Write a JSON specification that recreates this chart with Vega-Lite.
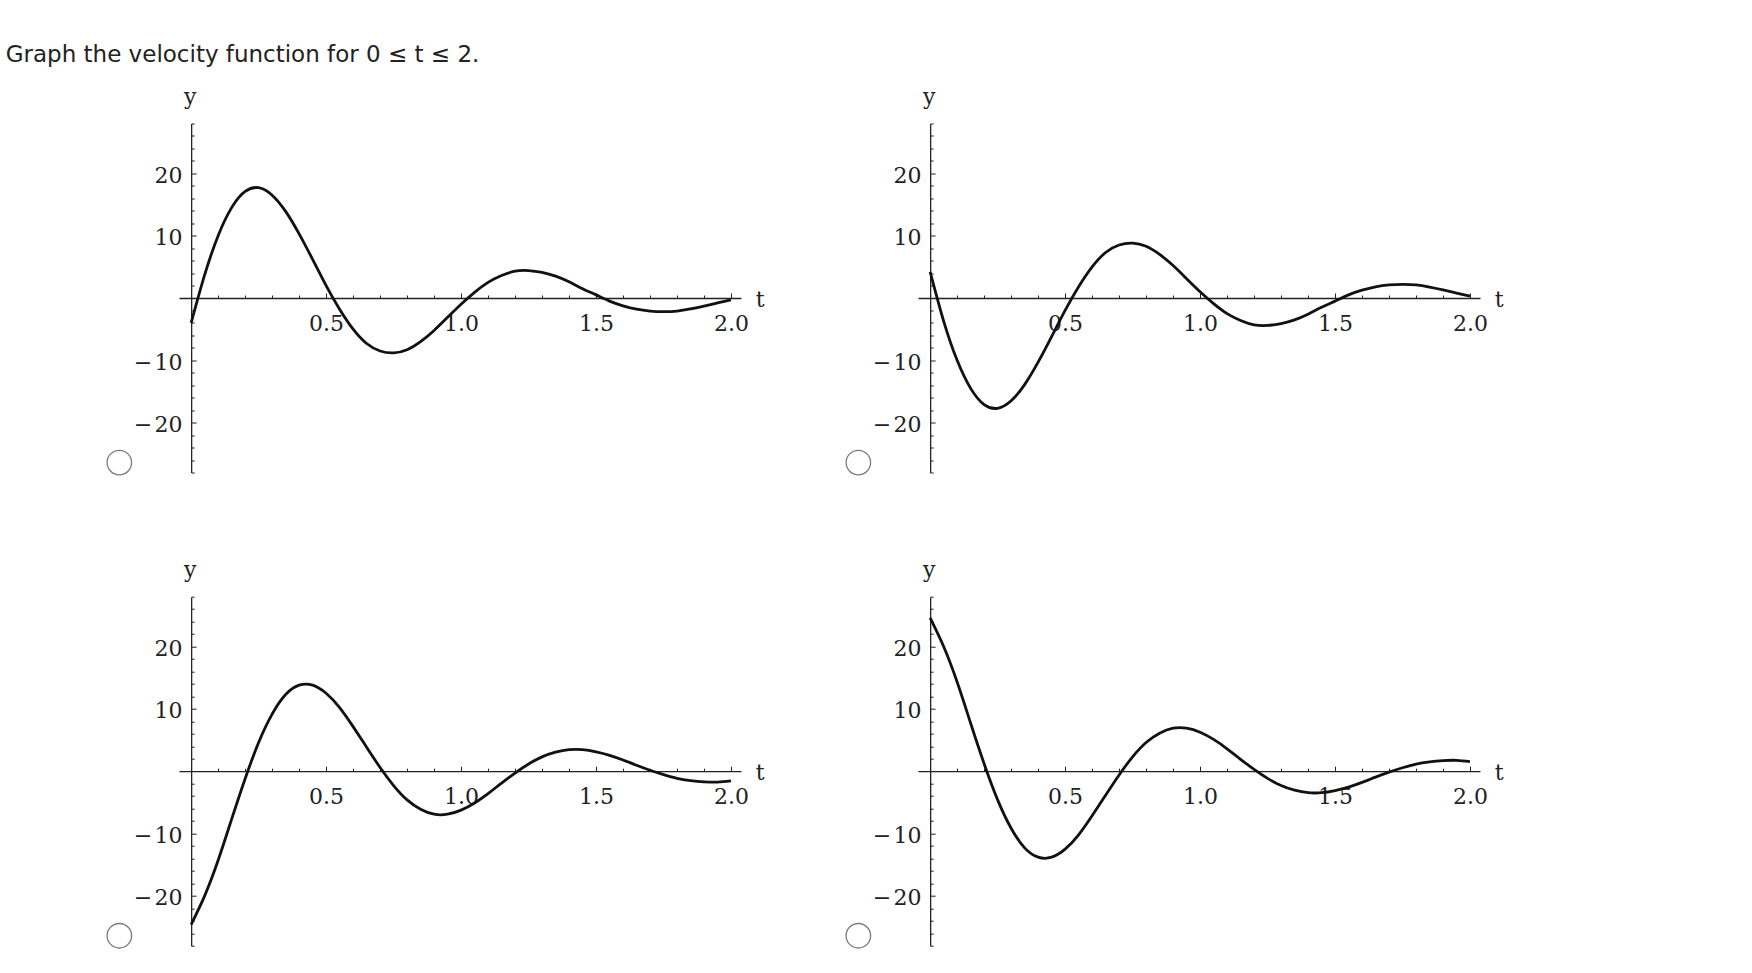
{
  "$schema": "https://vega.github.io/schema/vega-lite/v6.json",
  "background": "white",
  "padding": {"left": 5, "top": 43.5, "right": 5, "bottom": 5},
  "title": {
    "text": "Graph the velocity function for 0 ≤ t ≤ 2.",
    "anchor": "start",
    "frame": "group",
    "dx": -173.3,
    "offset": 18,
    "font": "DejaVu Sans",
    "fontSize": 23,
    "fontWeight": "normal",
    "color": "#222222"
  },
  "data": {
    "values": [
      {"panel": "a", "t": 0, "v": -4.0}, {"panel": "a", "t": 0.05, "v": 3.7}, {"panel": "a", "t": 0.1, "v": 10.0}, {"panel": "a", "t": 0.15, "v": 14.5}, {"panel": "a", "t": 0.2, "v": 17.1}, {"panel": "a", "t": 0.25, "v": 17.7}, {"panel": "a", "t": 0.3, "v": 16.5}, {"panel": "a", "t": 0.35, "v": 13.9}, {"panel": "a", "t": 0.4, "v": 10.3}, {"panel": "a", "t": 0.45, "v": 6.2}, {"panel": "a", "t": 0.5, "v": 2.0},
      {"panel": "a", "t": 0.55, "v": -1.8}, {"panel": "a", "t": 0.6, "v": -5.0}, {"panel": "a", "t": 0.65, "v": -7.3}, {"panel": "a", "t": 0.7, "v": -8.5}, {"panel": "a", "t": 0.75, "v": -8.8}, {"panel": "a", "t": 0.8, "v": -8.3}, {"panel": "a", "t": 0.85, "v": -7.0}, {"panel": "a", "t": 0.9, "v": -5.2}, {"panel": "a", "t": 0.95, "v": -3.1}, {"panel": "a", "t": 1.0, "v": -1.0},
      {"panel": "a", "t": 1.05, "v": 0.9}, {"panel": "a", "t": 1.1, "v": 2.5}, {"panel": "a", "t": 1.15, "v": 3.6}, {"panel": "a", "t": 1.2, "v": 4.3}, {"panel": "a", "t": 1.25, "v": 4.4}, {"panel": "a", "t": 1.3, "v": 4.1}, {"panel": "a", "t": 1.35, "v": 3.5}, {"panel": "a", "t": 1.4, "v": 2.6}, {"panel": "a", "t": 1.45, "v": 1.5}, {"panel": "a", "t": 1.5, "v": 0.5},
      {"panel": "a", "t": 1.55, "v": -0.5}, {"panel": "a", "t": 1.6, "v": -1.25}, {"panel": "a", "t": 1.65, "v": -1.8}, {"panel": "a", "t": 1.7, "v": -2.1}, {"panel": "a", "t": 1.75, "v": -2.2}, {"panel": "a", "t": 1.8, "v": -2.1}, {"panel": "a", "t": 1.85, "v": -1.75}, {"panel": "a", "t": 1.9, "v": -1.3}, {"panel": "a", "t": 1.95, "v": -0.8}, {"panel": "a", "t": 2.0, "v": -0.3},

      {"panel": "b", "t": 0, "v": 4.2}, {"panel": "b", "t": 0.05, "v": -3.7}, {"panel": "b", "t": 0.1, "v": -10.0}, {"panel": "b", "t": 0.15, "v": -14.5}, {"panel": "b", "t": 0.2, "v": -17.1}, {"panel": "b", "t": 0.25, "v": -17.7}, {"panel": "b", "t": 0.3, "v": -16.5}, {"panel": "b", "t": 0.35, "v": -13.9}, {"panel": "b", "t": 0.4, "v": -10.3}, {"panel": "b", "t": 0.45, "v": -6.2}, {"panel": "b", "t": 0.5, "v": -2.0},
      {"panel": "b", "t": 0.55, "v": 1.8}, {"panel": "b", "t": 0.6, "v": 5.0}, {"panel": "b", "t": 0.65, "v": 7.3}, {"panel": "b", "t": 0.7, "v": 8.5}, {"panel": "b", "t": 0.75, "v": 8.8}, {"panel": "b", "t": 0.8, "v": 8.3}, {"panel": "b", "t": 0.85, "v": 7.0}, {"panel": "b", "t": 0.9, "v": 5.2}, {"panel": "b", "t": 0.95, "v": 3.1}, {"panel": "b", "t": 1.0, "v": 1.0},
      {"panel": "b", "t": 1.05, "v": -0.9}, {"panel": "b", "t": 1.1, "v": -2.5}, {"panel": "b", "t": 1.15, "v": -3.6}, {"panel": "b", "t": 1.2, "v": -4.3}, {"panel": "b", "t": 1.25, "v": -4.4}, {"panel": "b", "t": 1.3, "v": -4.1}, {"panel": "b", "t": 1.35, "v": -3.5}, {"panel": "b", "t": 1.4, "v": -2.6}, {"panel": "b", "t": 1.45, "v": -1.5}, {"panel": "b", "t": 1.5, "v": -0.5},
      {"panel": "b", "t": 1.55, "v": 0.5}, {"panel": "b", "t": 1.6, "v": 1.25}, {"panel": "b", "t": 1.65, "v": 1.8}, {"panel": "b", "t": 1.7, "v": 2.1}, {"panel": "b", "t": 1.75, "v": 2.2}, {"panel": "b", "t": 1.8, "v": 2.1}, {"panel": "b", "t": 1.85, "v": 1.75}, {"panel": "b", "t": 1.9, "v": 1.3}, {"panel": "b", "t": 1.95, "v": 0.8}, {"panel": "b", "t": 2.0, "v": 0.3},

      {"panel": "c", "t": 0, "v": -24.6}, {"panel": "c", "t": 0.05, "v": -20.0}, {"panel": "c", "t": 0.1, "v": -14.3}, {"panel": "c", "t": 0.15, "v": -7.7}, {"panel": "c", "t": 0.2, "v": -1.2}, {"panel": "c", "t": 0.25, "v": 4.6}, {"panel": "c", "t": 0.3, "v": 9.15}, {"panel": "c", "t": 0.35, "v": 12.3}, {"panel": "c", "t": 0.4, "v": 13.8}, {"panel": "c", "t": 0.45, "v": 13.8}, {"panel": "c", "t": 0.5, "v": 12.5},
      {"panel": "c", "t": 0.55, "v": 10.2}, {"panel": "c", "t": 0.6, "v": 7.15}, {"panel": "c", "t": 0.65, "v": 3.85}, {"panel": "c", "t": 0.7, "v": 0.6}, {"panel": "c", "t": 0.75, "v": -2.3}, {"panel": "c", "t": 0.8, "v": -4.6}, {"panel": "c", "t": 0.85, "v": -6.1}, {"panel": "c", "t": 0.9, "v": -6.9}, {"panel": "c", "t": 0.95, "v": -6.9}, {"panel": "c", "t": 1.0, "v": -6.25},
      {"panel": "c", "t": 1.05, "v": -5.1}, {"panel": "c", "t": 1.1, "v": -3.6}, {"panel": "c", "t": 1.15, "v": -1.9}, {"panel": "c", "t": 1.2, "v": -0.3}, {"panel": "c", "t": 1.25, "v": 1.15}, {"panel": "c", "t": 1.3, "v": 2.3}, {"panel": "c", "t": 1.35, "v": 3.05}, {"panel": "c", "t": 1.4, "v": 3.45}, {"panel": "c", "t": 1.45, "v": 3.45}, {"panel": "c", "t": 1.5, "v": 3.1},
      {"panel": "c", "t": 1.55, "v": 2.55}, {"panel": "c", "t": 1.6, "v": 1.8}, {"panel": "c", "t": 1.65, "v": 0.95}, {"panel": "c", "t": 1.7, "v": 0.15}, {"panel": "c", "t": 1.75, "v": -0.55}, {"panel": "c", "t": 1.8, "v": -1.15}, {"panel": "c", "t": 1.85, "v": -1.5}, {"panel": "c", "t": 1.9, "v": -1.7}, {"panel": "c", "t": 1.95, "v": -1.75}, {"panel": "c", "t": 2.0, "v": -1.55},

      {"panel": "d", "t": 0, "v": 24.6}, {"panel": "d", "t": 0.05, "v": 20.0}, {"panel": "d", "t": 0.1, "v": 14.3}, {"panel": "d", "t": 0.15, "v": 7.7}, {"panel": "d", "t": 0.2, "v": 1.2}, {"panel": "d", "t": 0.25, "v": -4.6}, {"panel": "d", "t": 0.3, "v": -9.15}, {"panel": "d", "t": 0.35, "v": -12.3}, {"panel": "d", "t": 0.4, "v": -13.8}, {"panel": "d", "t": 0.45, "v": -13.8}, {"panel": "d", "t": 0.5, "v": -12.5},
      {"panel": "d", "t": 0.55, "v": -10.2}, {"panel": "d", "t": 0.6, "v": -7.15}, {"panel": "d", "t": 0.65, "v": -3.85}, {"panel": "d", "t": 0.7, "v": -0.6}, {"panel": "d", "t": 0.75, "v": 2.3}, {"panel": "d", "t": 0.8, "v": 4.6}, {"panel": "d", "t": 0.85, "v": 6.1}, {"panel": "d", "t": 0.9, "v": 6.9}, {"panel": "d", "t": 0.95, "v": 6.9}, {"panel": "d", "t": 1.0, "v": 6.25},
      {"panel": "d", "t": 1.05, "v": 5.1}, {"panel": "d", "t": 1.1, "v": 3.6}, {"panel": "d", "t": 1.15, "v": 1.9}, {"panel": "d", "t": 1.2, "v": 0.3}, {"panel": "d", "t": 1.25, "v": -1.15}, {"panel": "d", "t": 1.3, "v": -2.3}, {"panel": "d", "t": 1.35, "v": -3.05}, {"panel": "d", "t": 1.4, "v": -3.45}, {"panel": "d", "t": 1.45, "v": -3.45}, {"panel": "d", "t": 1.5, "v": -3.1},
      {"panel": "d", "t": 1.55, "v": -2.55}, {"panel": "d", "t": 1.6, "v": -1.8}, {"panel": "d", "t": 1.65, "v": -0.95}, {"panel": "d", "t": 1.7, "v": -0.15}, {"panel": "d", "t": 1.75, "v": 0.55}, {"panel": "d", "t": 1.8, "v": 1.15}, {"panel": "d", "t": 1.85, "v": 1.5}, {"panel": "d", "t": 1.9, "v": 1.7}, {"panel": "d", "t": 1.95, "v": 1.75}, {"panel": "d", "t": 2.0, "v": 1.55}
    ]
  },
  "columns": 2,
  "spacing": {"row": 124.2, "column": 177},
  "bounds": "flush",
  "concat": [
    {
      "transform": [{"filter": "datum.panel == 'a'"}],
      "width": 562, "height": 349,
      "resolve": {"axis": {"x": "independent", "y": "independent"}},
      "layer": [
        {
          "mark": {"type": "line", "color": "#111111", "strokeWidth": 2.8, "interpolate": "natural"},
          "encoding": {
            "x": {"field": "t", "type": "quantitative", "title": "t", "scale": {"domain": [-0.045, 2.037], "nice": false, "zero": false},
                  "axis": {"orient": "bottom", "values": [0.5, 1, 1.5, 2], "format": ".1f", "tickSize": -5, "labelPadding": 20.5}},
            "y": {"field": "v", "type": "quantitative", "title": "y", "scale": {"domain": [-28, 28], "nice": false, "zero": false},
                  "axis": {"orient": "left", "values": [-20, -10, 10, 20], "labelExpr": "datum.value < 0 ? '−\u200a' + abs(datum.value) : datum.label", "tickSize": -5, "labelPadding": 14.2}}
          }
        },
        {
          "transform": [{"filter": "datum.t == 0"}],
          "mark": {"type": "point", "shape": "circle", "size": 600, "filled": false, "stroke": "#7a7a7a", "strokeWidth": 1.3, "opacity": 1},
          "encoding": {
            "x": {"datum": -0.266, "type": "quantitative",
                  "axis": {"orient": "bottom", "title": null, "labels": false, "domain": false, "tickSize": -3, "values": [0.1, 0.2, 0.3, 0.4, 0.6, 0.7, 0.8, 0.9, 1.1, 1.2, 1.3, 1.4, 1.6, 1.7, 1.8, 1.9]}},
            "y": {"datum": -26.4, "type": "quantitative",
                  "axis": {"orient": "left", "title": null, "labels": false, "domain": false, "tickSize": -3, "values": [-28, -26, -24, -22, -18, -16, -14, -12, -8, -6, -4, -2, 2, 4, 6, 8, 12, 14, 16, 18, 22, 24, 26, 28]}}
          }
        }
      ]
    },
    {
      "transform": [{"filter": "datum.panel == 'b'"}],
      "width": 562, "height": 349,
      "resolve": {"axis": {"x": "independent", "y": "independent"}},
      "layer": [
        {
          "mark": {"type": "line", "color": "#111111", "strokeWidth": 2.8, "interpolate": "natural"},
          "encoding": {
            "x": {"field": "t", "type": "quantitative", "title": "t", "scale": {"domain": [-0.045, 2.037], "nice": false, "zero": false},
                  "axis": {"orient": "bottom", "values": [0.5, 1, 1.5, 2], "format": ".1f", "tickSize": -5, "labelPadding": 20.5}},
            "y": {"field": "v", "type": "quantitative", "title": "y", "scale": {"domain": [-28, 28], "nice": false, "zero": false},
                  "axis": {"orient": "left", "values": [-20, -10, 10, 20], "labelExpr": "datum.value < 0 ? '−\u200a' + abs(datum.value) : datum.label", "tickSize": -5, "labelPadding": 14.2}}
          }
        },
        {
          "transform": [{"filter": "datum.t == 0"}],
          "mark": {"type": "point", "shape": "circle", "size": 600, "filled": false, "stroke": "#7a7a7a", "strokeWidth": 1.3, "opacity": 1},
          "encoding": {
            "x": {"datum": -0.266, "type": "quantitative",
                  "axis": {"orient": "bottom", "title": null, "labels": false, "domain": false, "tickSize": -3, "values": [0.1, 0.2, 0.3, 0.4, 0.6, 0.7, 0.8, 0.9, 1.1, 1.2, 1.3, 1.4, 1.6, 1.7, 1.8, 1.9]}},
            "y": {"datum": -26.4, "type": "quantitative",
                  "axis": {"orient": "left", "title": null, "labels": false, "domain": false, "tickSize": -3, "values": [-28, -26, -24, -22, -18, -16, -14, -12, -8, -6, -4, -2, 2, 4, 6, 8, 12, 14, 16, 18, 22, 24, 26, 28]}}
          }
        }
      ]
    },
    {
      "transform": [{"filter": "datum.panel == 'c'"}],
      "width": 562, "height": 349,
      "resolve": {"axis": {"x": "independent", "y": "independent"}},
      "layer": [
        {
          "mark": {"type": "line", "color": "#111111", "strokeWidth": 2.8, "interpolate": "natural"},
          "encoding": {
            "x": {"field": "t", "type": "quantitative", "title": "t", "scale": {"domain": [-0.045, 2.037], "nice": false, "zero": false},
                  "axis": {"orient": "bottom", "values": [0.5, 1, 1.5, 2], "format": ".1f", "tickSize": -5, "labelPadding": 20.5}},
            "y": {"field": "v", "type": "quantitative", "title": "y", "scale": {"domain": [-28, 28], "nice": false, "zero": false},
                  "axis": {"orient": "left", "values": [-20, -10, 10, 20], "labelExpr": "datum.value < 0 ? '−\u200a' + abs(datum.value) : datum.label", "tickSize": -5, "labelPadding": 14.2}}
          }
        },
        {
          "transform": [{"filter": "datum.t == 0"}],
          "mark": {"type": "point", "shape": "circle", "size": 600, "filled": false, "stroke": "#7a7a7a", "strokeWidth": 1.3, "opacity": 1},
          "encoding": {
            "x": {"datum": -0.266, "type": "quantitative",
                  "axis": {"orient": "bottom", "title": null, "labels": false, "domain": false, "tickSize": -3, "values": [0.1, 0.2, 0.3, 0.4, 0.6, 0.7, 0.8, 0.9, 1.1, 1.2, 1.3, 1.4, 1.6, 1.7, 1.8, 1.9]}},
            "y": {"datum": -26.4, "type": "quantitative",
                  "axis": {"orient": "left", "title": null, "labels": false, "domain": false, "tickSize": -3, "values": [-28, -26, -24, -22, -18, -16, -14, -12, -8, -6, -4, -2, 2, 4, 6, 8, 12, 14, 16, 18, 22, 24, 26, 28]}}
          }
        }
      ]
    },
    {
      "transform": [{"filter": "datum.panel == 'd'"}],
      "width": 562, "height": 349,
      "resolve": {"axis": {"x": "independent", "y": "independent"}},
      "layer": [
        {
          "mark": {"type": "line", "color": "#111111", "strokeWidth": 2.8, "interpolate": "natural"},
          "encoding": {
            "x": {"field": "t", "type": "quantitative", "title": "t", "scale": {"domain": [-0.045, 2.037], "nice": false, "zero": false},
                  "axis": {"orient": "bottom", "values": [0.5, 1, 1.5, 2], "format": ".1f", "tickSize": -5, "labelPadding": 20.5}},
            "y": {"field": "v", "type": "quantitative", "title": "y", "scale": {"domain": [-28, 28], "nice": false, "zero": false},
                  "axis": {"orient": "left", "values": [-20, -10, 10, 20], "labelExpr": "datum.value < 0 ? '−\u200a' + abs(datum.value) : datum.label", "tickSize": -5, "labelPadding": 14.2}}
          }
        },
        {
          "transform": [{"filter": "datum.t == 0"}],
          "mark": {"type": "point", "shape": "circle", "size": 600, "filled": false, "stroke": "#7a7a7a", "strokeWidth": 1.3, "opacity": 1},
          "encoding": {
            "x": {"datum": -0.266, "type": "quantitative",
                  "axis": {"orient": "bottom", "title": null, "labels": false, "domain": false, "tickSize": -3, "values": [0.1, 0.2, 0.3, 0.4, 0.6, 0.7, 0.8, 0.9, 1.1, 1.2, 1.3, 1.4, 1.6, 1.7, 1.8, 1.9]}},
            "y": {"datum": -26.4, "type": "quantitative",
                  "axis": {"orient": "left", "title": null, "labels": false, "domain": false, "tickSize": -3, "values": [-28, -26, -24, -22, -18, -16, -14, -12, -8, -6, -4, -2, 2, 4, 6, 8, 12, 14, 16, 18, 22, 24, 26, 28]}}
          }
        }
      ]
    }
  ],
  "config": {
    "view": {"stroke": null},
    "axis": {
      "grid": false, "labelOverlap": false, "labelBound": false, "labelFlush": false,
      "tickColor": "#222222", "tickWidth": 1,
      "domainColor": "#222222", "domainWidth": 1.3,
      "labelFont": "DejaVu Serif", "labelFontSize": 22, "labelColor": "#222222",
      "titleFont": "DejaVu Serif", "titleFontSize": 22, "titleFontWeight": "normal", "titleColor": "#222222",
      "titleAngle": 0, "titleAlign": "center", "titleBaseline": "alphabetic"
    },
    "axisX": {"offset": -174.5, "titleX": 580.7, "titleY": 8.2},
    "axisY": {"offset": -12.15, "labelOffset": 2, "titleX": -1.5, "titleY": -20.3}
  }
}
